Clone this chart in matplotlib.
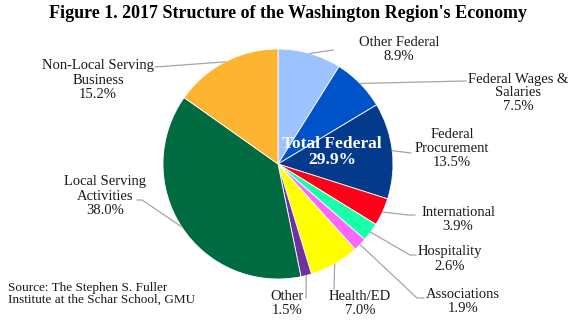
import numpy as np
import matplotlib.pyplot as plt

sectors = ["Other Federal", "Federal Wages &\nSalaries", "Federal\nProcurement",
           "International", "Hospitality", "Associations", "Health/ED", "Other",
           "Local Serving\nActivities", "Non-Local Serving\nBusiness"]
shares = [8.9, 7.5, 13.5, 3.9, 2.6, 1.9, 7.0, 1.5, 38.0, 15.2]
colors = ["#9CC2FF", "#0052C8", "#033A8C", "#FF0018", "#19FFAA",
          "#FF66FF", "#FFFF00", "#7030A0", "#006A40", "#FDB431"]
total_federal = 29.9

# label centres and leader elbows, in pixels from the top-left corner
label_xy = [(399, 49), (518, 93), (452, 149), (458, 220), (450, 259),
            (463, 302), (360, 303), (287, 303), (105, 196), (98, 80)]
leader_pts = [[(333, 50)], [(466, 81)], [(411, 153)], [(408, 215), (415, 215)],
              [(410, 255), (416, 255)], [(417, 298), (424, 298)], [(334, 289)],
              [(306, 298)], [(142, 200), (137, 200)], [(155, 67)]]

W, H = 583, 328
fig = plt.figure(figsize=(W / 100, H / 100), dpi=100)
ax = fig.add_axes([0, 0, 1, 1])

cx, cy, r = 278, H - 164, 115
wedges, _ = ax.pie(shares, colors=colors, startangle=90, counterclock=False,
                   center=(cx, cy), radius=r,
                   wedgeprops=dict(edgecolor="white", linewidth=0.6))

font = "Liberation Serif"
for w, lab, val, (lx, ly), pts in zip(wedges, sectors, shares, label_xy, leader_pts):
    ang = np.deg2rad((w.theta1 + w.theta2) / 2)
    ax0 = (cx + r * np.cos(ang), cy + r * np.sin(ang))
    xs = [ax0[0]] + [p[0] for p in pts]
    ys = [ax0[1]] + [H - p[1] for p in pts]
    ax.plot(xs, ys, color="#A6A6A6", lw=0.9, zorder=1)
    ax.text(lx, H - ly, f"{lab}\n{val:.1f}%", ha="center", va="center",
            fontsize=10.5, family=font, color="#1A1A1A", linespacing=1.1)

ax.text(332, H - 152, f"Total Federal\n{total_federal}%", ha="center", va="center",
        fontsize=12.5, family=font, weight="bold", color="white", linespacing=1.05)

ax.text(288, H - 14, "Figure 1. 2017 Structure of the Washington Region's Economy",
        ha="center", va="center", fontsize=13, family=font, weight="bold")

ax.text(8, H - 294, "Source: The Stephen S. Fuller\nInstitute at the Schar School, GMU",
        ha="left", va="center", fontsize=9.5, family=font, color="#1A1A1A",
        linespacing=1.05)

ax.set_xlim(0, W)
ax.set_ylim(0, H)
ax.set_aspect("equal")
ax.axis("off")

fig.savefig("out.png", dpi=100)
